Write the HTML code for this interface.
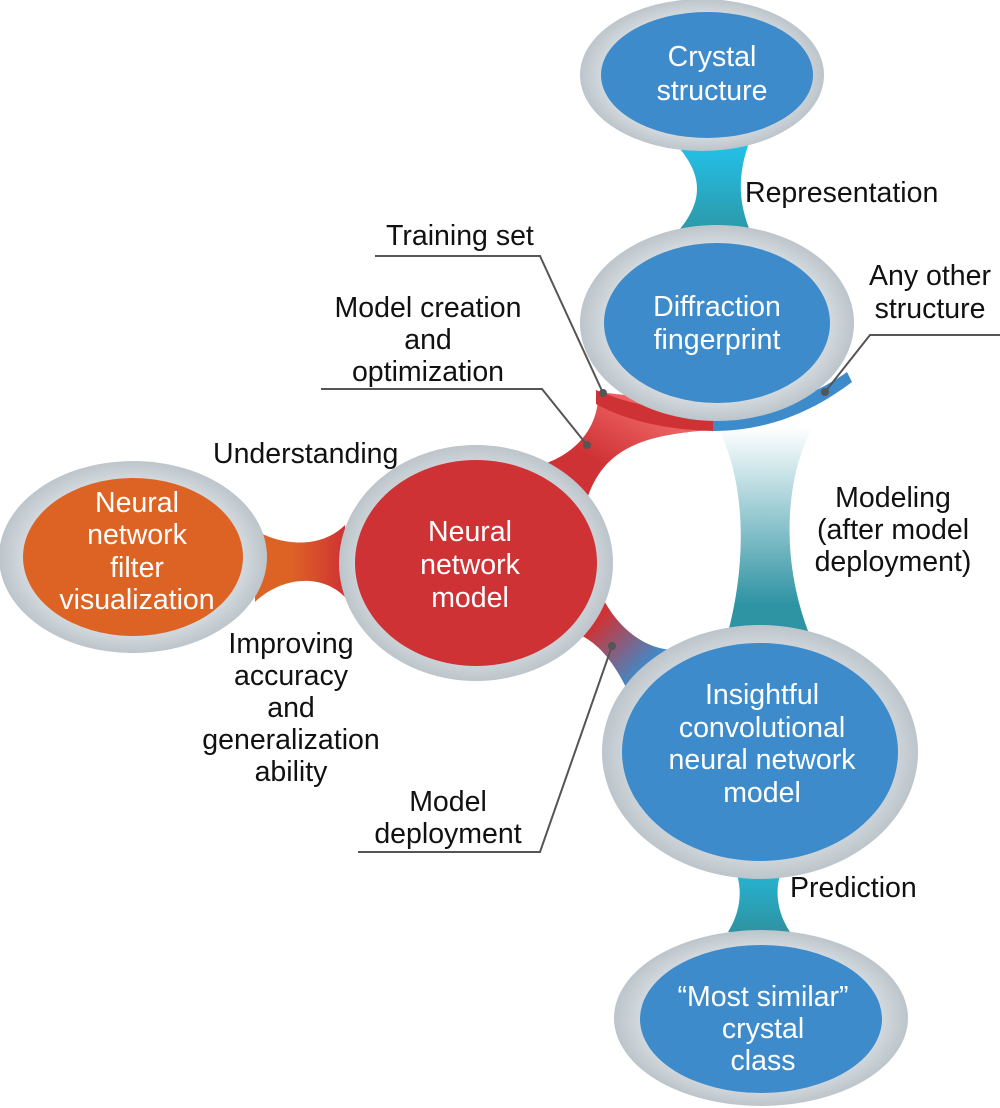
<!DOCTYPE html>
<html><head><meta charset="utf-8"><style>
html,body{margin:0;padding:0;background:#fff;}
svg{display:block;}
text{font-family:"Liberation Sans",sans-serif;font-size:28.5px;}
.w{fill:#fff;text-anchor:middle;}
.b{fill:#111;}
.m{fill:#111;text-anchor:middle;}
</style></head><body>
<svg width="1000" height="1108" viewBox="0 0 1000 1108" xmlns="http://www.w3.org/2000/svg">
<defs>
<radialGradient id="ring" cx="50%" cy="50%" r="50%">
<stop offset="0.8" stop-color="#d5dbdf"/><stop offset="1" stop-color="#bcc5cb"/></radialGradient>
<linearGradient id="cy1" x1="0" y1="0" x2="0" y2="1"><stop offset="0" stop-color="#22c3ec"/><stop offset="1" stop-color="#2e93a0"/></linearGradient>
<linearGradient id="mod" x1="0" y1="0" x2="0" y2="1"><stop offset="0" stop-color="#ffffff"/><stop offset="0.85" stop-color="#2e93a3"/><stop offset="1" stop-color="#2e93a3"/></linearGradient>
<linearGradient id="or" x1="0" y1="0" x2="1" y2="0"><stop offset="0" stop-color="#dd6325"/><stop offset="0.4" stop-color="#dd6325"/><stop offset="1" stop-color="#cf3234"/></linearGradient>
<linearGradient id="rb" x1="0" y1="0" x2="1" y2="1"><stop offset="0.3" stop-color="#cf3234"/><stop offset="0.75" stop-color="#3d8bcb"/></linearGradient>
<linearGradient id="rf" x1="1" y1="0" x2="0" y2="1"><stop offset="0.2" stop-color="#f06868"/><stop offset="0.6" stop-color="#cf3234"/></linearGradient>
</defs>

<path d="M672,140 L750,140 C737,175 737,205 755,242 L668,242 C706,205 706,175 672,140Z" fill="url(#cy1)"/>
<path d="M718,428 L812,428 C785,480 780,560 810,636 L727,636 C748,560 745,480 718,428Z" fill="url(#mod)"/>
<path d="M718,845 L800,845 C772,870 772,905 790,932 L728,932 C745,905 745,870 718,845Z" fill="url(#cy1)"/>
<path d="M255,530 C280,545 320,550 345,525 L345,597 C320,572 280,578 255,602Z" fill="url(#or)"/>
<path d="M597,585 C610,620 640,650 675,650 L630,695 C615,665 600,640 568,630Z" fill="url(#rb)"/>
<path d="M598,392 C600,430 570,465 515,470 L585,505 C600,455 630,435 713,430 L713,405Z" fill="url(#rf)"/>
<path d="M596,390 C630,405 670,412 713,412 L713,431 C665,430 625,420 596,404Z" fill="#cf3234"/>
<path d="M713,412 C770,412 815,395 847,372 L852,382 C815,410 770,431 713,431Z" fill="#3d8bcb"/>

<ellipse cx="702" cy="75" rx="122" ry="76" fill="url(#ring)"/>
<ellipse cx="707" cy="75" rx="106" ry="63" fill="#3d8bcb"/>
<ellipse cx="717" cy="323" rx="137" ry="98" fill="url(#ring)"/>
<ellipse cx="717" cy="323" rx="113" ry="80" fill="#3d8bcb"/>
<ellipse cx="476" cy="563" rx="137" ry="118" fill="url(#ring)"/>
<ellipse cx="476" cy="563" rx="121" ry="103" fill="#cf3234"/>
<ellipse cx="133" cy="557" rx="134" ry="96" fill="url(#ring)"/>
<ellipse cx="133" cy="557" rx="110" ry="79" fill="#dd6325"/>
<ellipse cx="760" cy="752" rx="158" ry="127" fill="url(#ring)"/>
<ellipse cx="760" cy="752" rx="138" ry="109" fill="#3d8bcb"/>
<ellipse cx="761" cy="1018" rx="147" ry="88" fill="url(#ring)"/>
<ellipse cx="761" cy="1019" rx="121" ry="74" fill="#3d8bcb"/>

<g stroke="#555" stroke-width="2" fill="none">
<polyline points="375,256 540,256 603,393"/>
<polyline points="321,389 542,389 587,445"/>
<polyline points="1000,335 870,335 825,392"/>
<polyline points="358,852 540,852 612,646"/>
</g>
<g fill="#555"><circle cx="603" cy="393" r="4"/><circle cx="587" cy="445" r="4"/><circle cx="825" cy="392" r="4"/><circle cx="612" cy="646" r="4"/></g>

<text class="w" x="712" y="66">Crystal</text>
<text class="w" x="712" y="100">structure</text>
<text class="w" x="717" y="316">Diffraction</text>
<text class="w" x="717" y="349">fingerprint</text>
<text class="w" x="470" y="541">Neural</text>
<text class="w" x="470" y="574">network</text>
<text class="w" x="470" y="607">model</text>
<text class="w" x="137" y="512">Neural</text>
<text class="w" x="137" y="544">network</text>
<text class="w" x="137" y="577">filter</text>
<text class="w" x="137" y="609">visualization</text>
<text class="w" x="762" y="704">Insightful</text>
<text class="w" x="762" y="737">convolutional</text>
<text class="w" x="762" y="769">neural network</text>
<text class="w" x="762" y="802">model</text>
<text class="w" x="763" y="1006">“Most similar”</text>
<text class="w" x="763" y="1038">crystal</text>
<text class="w" x="763" y="1070">class</text>

<text class="b" x="745" y="202">Representation</text>
<text class="b" x="386" y="245">Training set</text>
<text class="m" x="930" y="285">Any other</text>
<text class="m" x="930" y="318">structure</text>
<text class="m" x="428" y="317">Model creation</text>
<text class="m" x="428" y="349">and</text>
<text class="m" x="428" y="381">optimization</text>
<text class="b" x="213" y="463">Understanding</text>
<text class="m" x="893" y="507">Modeling</text>
<text class="m" x="893" y="539">(after model</text>
<text class="m" x="893" y="571">deployment)</text>
<text class="m" x="291" y="653">Improving</text>
<text class="m" x="291" y="685">accuracy</text>
<text class="m" x="291" y="717">and</text>
<text class="m" x="291" y="749">generalization</text>
<text class="m" x="291" y="781">ability</text>
<text class="m" x="448" y="811">Model</text>
<text class="m" x="448" y="843">deployment</text>
<text class="b" x="790" y="897">Prediction</text>
</svg>
</body></html>
